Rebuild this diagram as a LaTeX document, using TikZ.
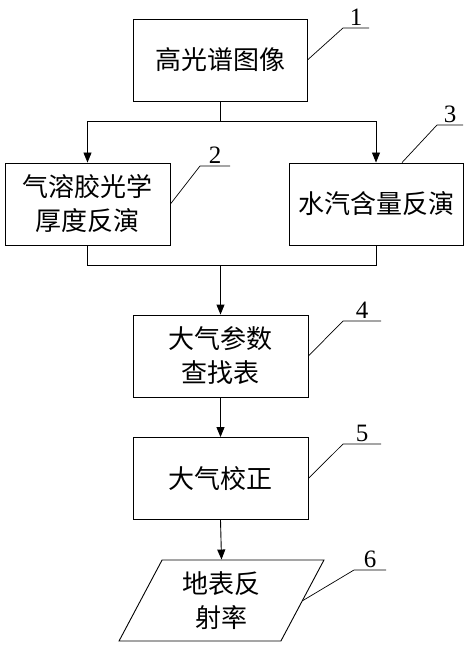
\documentclass[tikz,border=0pt]{standalone}
\usepackage{fontspec}
\setmainfont{Liberation Serif}
\newfontfamily\cjk{Noto Sans CJK SC}
\newfontfamily\sohieu{Liberation Serif}
\usetikzlibrary{arrows.meta,shapes.geometric,calc}

\begin{document}
\begin{tikzpicture}[x=1pt, y=-1pt, >={Triangle[length=10pt,width=8pt]}, line width=0.9pt,
	khung/.style={draw, minimum height=82pt, inner sep=0pt, align=center,
		font=\cjk\fontsize{26}{34}\selectfont},
	hinhbh/.style={draw, trapezium, trapezium left angle=64, trapezium right angle=116,
		trapezium stretches=true, minimum width=205pt, minimum height=81pt,
		inner sep=0pt, align=center, font=\cjk\fontsize{26}{34}\selectfont},
	so/.style={font=\sohieu\fontsize{25}{25}\selectfont, above, inner sep=2pt}]
	\useasboundingbox (0,0) rectangle (474,647);
	
	% Các khối của lưu đồ
	\node[khung, minimum width=174pt] (anh) at (220,60) {高光谱图像};
	\node[khung, minimum width=165pt] (aod) at (87.5,204) {气溶胶光学\\厚度反演};
	\node[khung, minimum width=174pt] (hoi) at (376,204) {水汽含量反演};
	\node[khung, minimum width=175pt] (bang) at (220.5,356) {大气参数\\查找表};
	\node[khung, minimum width=175pt] (hieu) at (220.5,478.5) {大气校正};
	\node[hinhbh] (phanxa) at (221.5,600.5) {地表反\\射率};
	
	% Điểm rẽ nhánh và điểm gộp
	\coordinate (tach) at ($(anh.south)+(0,20)$);
	\coordinate (gop) at (220.5,265);
	
	% Mũi tên nối các khối
	\draw[->] (anh.south) -- (tach) -| (aod.north);
	\draw[->] (tach) -| (hoi.north);
	\draw (aod.south) |- (gop);
	\draw (hoi.south) |- (gop);
	\draw[->] (gop) -- (bang.north);
	\draw[->] (bang.south) -- (hieu.north);
	\draw[->] (hieu.south) -- (phanxa.north);
	
	% Đường chú thích số hiệu
	\coordinate (d1) at (343,28);
	\coordinate (d2) at (200,166);
	\coordinate (d3) at (437,125);
	\coordinate (d4) at (343,321);
	\coordinate (d5) at (343,444);
	\coordinate (d6) at (354,570);
	
	\draw[line width=0.7pt] (anh.east) -- (d1) -- ++(26,0) node[so, midway] {1};
	\draw[line width=0.7pt] (aod.east) -- (d2) -- ++(30,0) node[so, midway] {2};
	\draw[line width=0.7pt] ([xshift=26pt]hoi.north) -- (d3) -- ++(26,0) node[so, midway] {3};
	\draw[line width=0.7pt] (bang.east) -- (d4) -- ++(38,0) node[so, midway] {4};
	\draw[line width=0.7pt] (hieu.east) -- (d5) -- ++(38,0) node[so, midway] {5};
	\draw[line width=0.7pt] (phanxa.east) -- (d6) -- ++(32,0) node[so, midway] {6};
\end{tikzpicture}
\end{document}
